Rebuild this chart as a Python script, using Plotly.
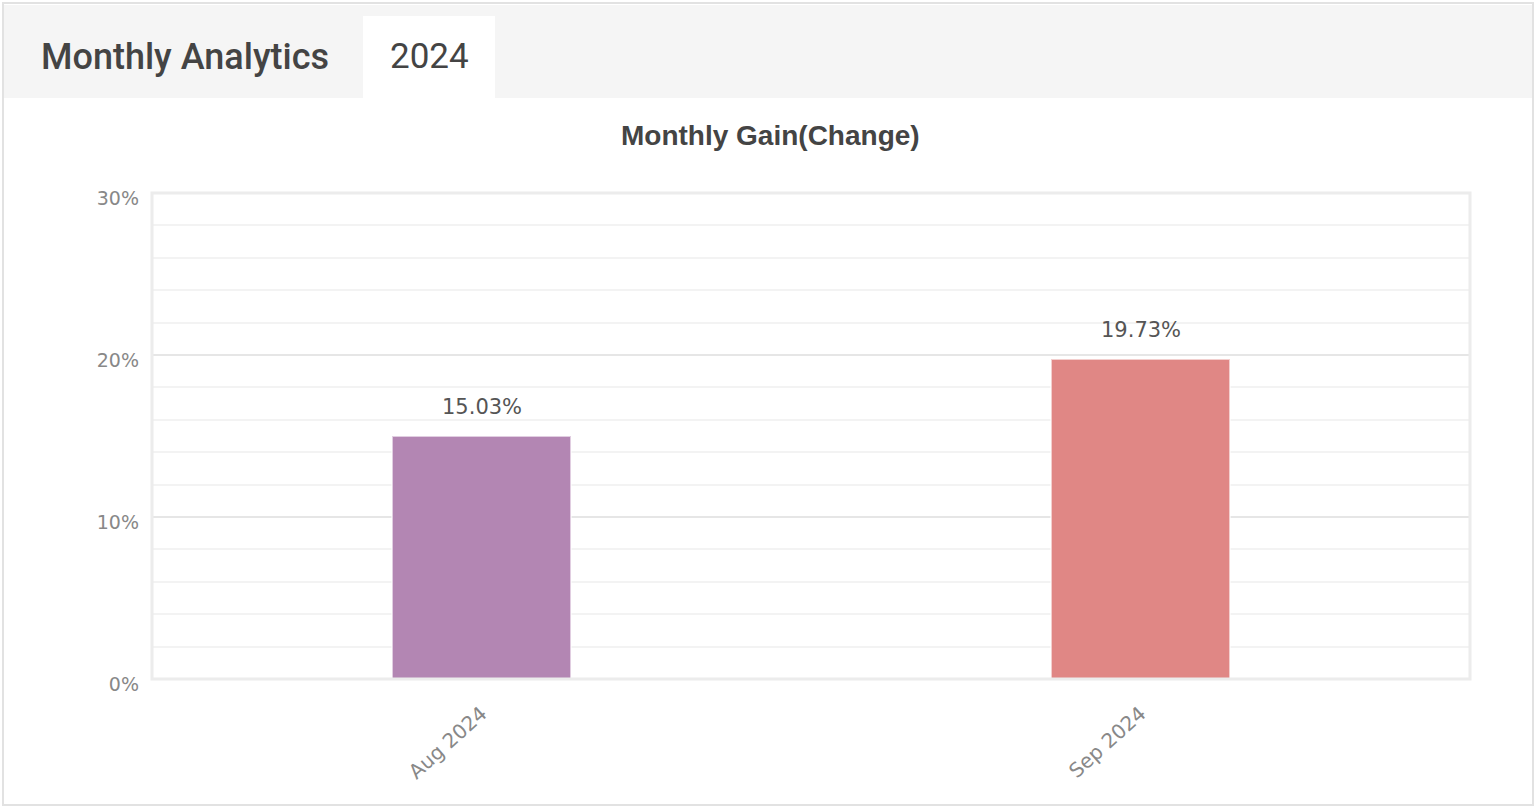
import plotly.graph_objects as go

categories = ["Aug 2024", "Sep 2024"]
gains = [15.03, 19.73]
bar_colors = ["#b386b3", "#e08785"]
y_ticks = [0, 10, 20, 30]
y_tick_labels = ["0%", "10%", "20%", "30%"]

W, H = 1536, 808
L, R, T, B = 152, 1470, 193, 679

def px(x):
    return (x - L) / (R - L)

def py(y):
    return (B - y) / (B - T)

fig = go.Figure()
fig.add_trace(go.Bar(
    x=categories, y=gains,
    marker=dict(color=bar_colors, line=dict(color="rgba(255,255,255,0.6)", width=2)),
    width=0.273,
    hoverinfo="skip",
))

for c, v in zip(categories, gains):
    fig.add_annotation(x=c, y=v, text=f"{v:.2f}%", showarrow=False,
                       yanchor="bottom", yshift=15,
                       font=dict(family="DejaVu Sans", size=21, color="#555"))

shapes = [
    dict(type="rect", xref="paper", yref="paper", x0=px(3), x1=px(1533), y0=py(805), y1=py(3),
         line=dict(color="#e2e2e2", width=2), fillcolor="rgba(0,0,0,0)", layer="below"),
    dict(type="rect", xref="paper", yref="paper", x0=px(4), x1=px(1532), y0=py(98), y1=py(5),
         line=dict(width=0), fillcolor="#f5f5f5", layer="below"),
    dict(type="rect", xref="paper", yref="paper", x0=px(363), x1=px(495), y0=py(98), y1=py(16),
         line=dict(width=0), fillcolor="#ffffff", layer="below"),
    dict(type="rect", xref="paper", yref="paper", x0=0, x1=1, y0=0, y1=1,
         line=dict(color="#ececec", width=3), fillcolor="rgba(0,0,0,0)"),
]

annotations = [
    dict(xref="paper", yref="paper", x=px(39), y=py(57), text="Monthly Analytics", showarrow=False,
         xanchor="left", yanchor="middle", font=dict(family="Roboto", size=36, weight=500, color="#444")),
    dict(xref="paper", yref="paper", x=px(429), y=py(57), text="2024", showarrow=False,
         xanchor="center", yanchor="middle", font=dict(family="Roboto", size=35, color="#444")),
    dict(xref="paper", yref="paper", x=px(770), y=py(135), text="<b>Monthly Gain(Change)</b>", showarrow=False,
         xanchor="center", yanchor="middle", font=dict(family="Liberation Sans", size=28, color="#444")),
]
for a in annotations:
    fig.add_annotation(**a)

fig.update_layout(
    width=W, height=H,
    margin=dict(l=L, r=W - R, t=T, b=H - B),
    paper_bgcolor="#ffffff", plot_bgcolor="#ffffff",
    showlegend=False,
    shapes=shapes,
    bargap=0,
)
fig.update_yaxes(range=[0, 30], tickvals=y_ticks, ticktext=y_tick_labels,
                 gridcolor="#e6e6e6", gridwidth=2, zeroline=False,
                 minor=dict(dtick=2, showgrid=True, gridcolor="#f3f3f3", gridwidth=2),
                 tickfont=dict(family="DejaVu Sans", size=19, color="#888"), ticklabelstandoff=12,
                 ticklabelshift=5, fixedrange=True)
fig.update_xaxes(tickangle=-42, showgrid=False,
                 tickfont=dict(family="DejaVu Sans", size=20, color="#888"),
                 ticklabelstandoff=18, fixedrange=True)

fig.write_html("out.html", config={"displayModeBar": False})
